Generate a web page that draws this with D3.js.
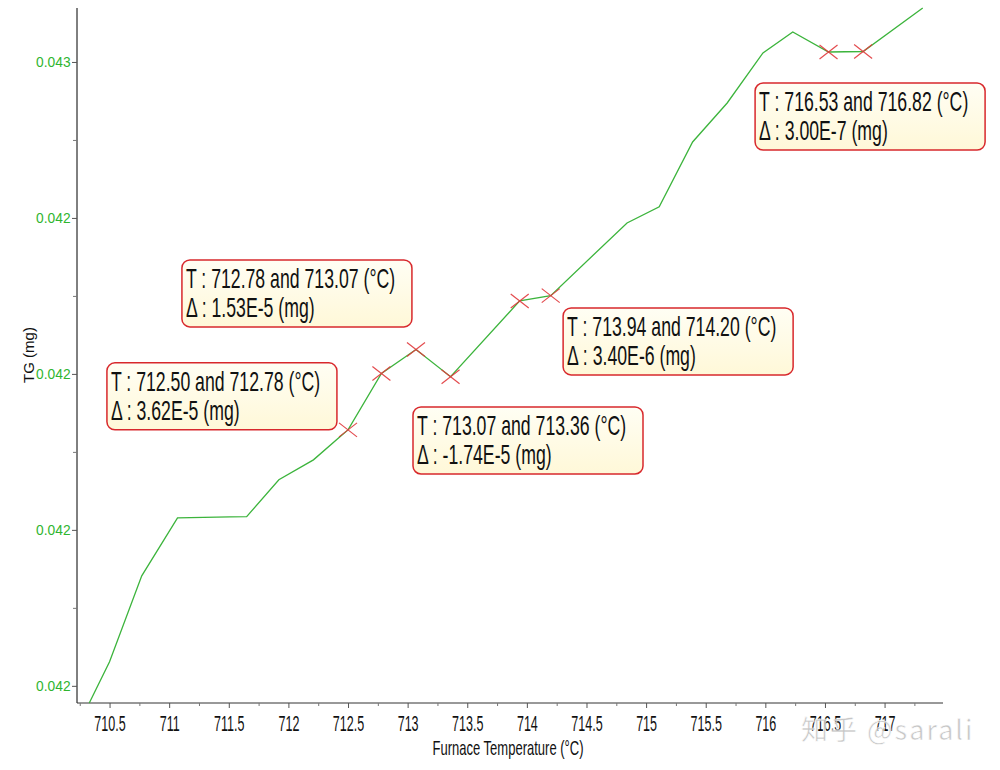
<!DOCTYPE html>
<html>
<head>
<meta charset="utf-8">
<script src="https://cdn.jsdelivr.net/npm/d3@7"></script>
<style>
  html, body { margin: 0; padding: 0; background: #ffffff; }
  svg { display: block; font-family: "Liberation Sans", Arial, sans-serif; }
</style>
</head>
<body>
<svg id="chart" width="1000" height="770"></svg>
<script>
// ---- data ----
const temperature = [710.33, 710.50, 710.77, 711.07, 711.51, 711.65, 711.92, 712.21, 712.43,
  712.50, 712.78, 713.07, 713.36, 713.94, 714.20, 714.84, 715.11, 715.39, 715.68, 715.98,
  716.23, 716.53, 716.82, 717.32];
const tg = [0.042589, 0.0426154, 0.0426705, 0.0427077, 0.0427083, 0.0427085, 0.0427321, 0.0427449,
  0.0427596, 0.0427641, 0.0428003, 0.0428156, 0.0427982, 0.0428468, 0.0428502, 0.0428968,
  0.0429071, 0.0429487, 0.0429737, 0.0430058, 0.0430192, 0.0430064, 0.0430067, 0.0430346];

const xTickValues = [710.5, 711, 711.5, 712, 712.5, 713, 713.5, 714, 714.5, 715, 715.5, 716, 716.5, 717];
const xTickLabels = ["710.5", "711", "711.5", "712", "712.5", "713", "713.5", "714", "714.5", "715", "715.5", "716", "716.5", "717"];
const yTickValues = [0.0426, 0.0427, 0.0428, 0.0429, 0.0430];
const yTickLabels = ["0.042", "0.042", "0.042", "0.042", "0.043"];

// marker pairs (temperatures) and their annotation texts
const pairStart = [712.50, 712.78, 713.07, 713.94, 716.53];
const pairEnd   = [712.78, 713.07, 713.36, 714.20, 716.82];
const deltaText = ["3.62E-5", "1.53E-5", "-1.74E-5", "3.40E-6", "3.00E-7"];
// annotation box anchor (top-left) in data units
const boxTemp = [710.478, 711.107, 713.045, 714.304, 715.914];
const boxTg   = [0.0428071, 0.0428731, 0.0427788, 0.0428423, 0.0429865];

const xTitle = "Furnace Temperature (°C)";
const yTitle = "TG (mg)";
const watermark = "知乎 @sarali";

// ---- layout ----
const svg = d3.select("#chart");
const pLeft = 77, pRight = 943, pTop = 8, pBottom = 703;
const x = d3.scaleLinear().domain([710.227, 717.49]).range([pLeft, pRight]);
const y = d3.scaleLinear().domain([0.042589, 0.0430346]).range([pBottom, pTop]);

const green = "#3cb43c";
const red = "#d8282c";

// y axis
const yAxis = svg.append("g").attr("transform", `translate(${pLeft},0)`)
  .call(d3.axisLeft(y).tickValues(yTickValues).tickSize(5).tickSizeOuter(0)
    .tickFormat((d, i) => yTickLabels[i]));
yAxis.select(".domain").attr("stroke", "#000").attr("d", `M0,${pTop}V${pBottom}`);
yAxis.selectAll(".tick line").attr("stroke", "#555");
yAxis.selectAll(".tick text").attr("fill", "#2fb52f").attr("font-size", 15).attr("x", -7)
  .attr("transform", "scale(0.92,1)")
  .attr("font-family", "Liberation Sans, Arial, sans-serif");
const yMinor = yTickValues.slice(0, -1).map((d, i) => (d + yTickValues[i + 1]) / 2);
svg.append("g").attr("transform", `translate(${pLeft},0)`)
  .call(d3.axisLeft(y).tickValues(yMinor).tickSize(4).tickFormat(""))
  .call(g => g.select(".domain").remove())
  .selectAll("line").attr("stroke", "#777");

// x axis
const xAxis = svg.append("g").attr("transform", `translate(0,${pBottom})`)
  .call(d3.axisBottom(x).tickValues(xTickValues).tickSize(5).tickSizeOuter(0)
    .tickFormat((d, i) => xTickLabels[i]));
xAxis.select(".domain").attr("stroke", "#333").attr("d", `M${pLeft},0H${pRight}`);
xAxis.selectAll(".tick line").attr("stroke", "#555");
xAxis.selectAll(".tick text").attr("fill", "#111").attr("font-size", 22)
  .attr("y", 28).attr("dy", 0).attr("transform", "scale(0.57,1)")
  .attr("font-family", "Liberation Sans, Arial, sans-serif");
const xMinor = [710.25].concat(xTickValues.map(d => d + 0.25));
svg.append("g").attr("transform", `translate(0,${pBottom})`)
  .call(d3.axisBottom(x).tickValues(xMinor).tickSize(3).tickFormat(""))
  .call(g => g.select(".domain").remove())
  .selectAll("line").attr("stroke", "#777");

// axis titles
svg.append("text")
  .attr("transform", `translate(${(pLeft + pRight) / 2 - 2},755) scale(0.62,1)`)
  .attr("text-anchor", "middle").attr("font-size", 21).attr("fill", "#111")
  .text(xTitle);
svg.append("text")
  .attr("transform", `translate(34,355) rotate(-90)`)
  .attr("text-anchor", "middle").attr("font-size", 15).attr("fill", "#111")
  .text(yTitle);

// line
const pts = temperature.map((t, i) => [t, tg[i]]);
svg.append("path").datum(pts)
  .attr("fill", "none").attr("stroke", green).attr("stroke-width", 1.3)
  .attr("d", d3.line().x(d => x(d[0])).y(d => y(d[1])));

// markers
const lookup = t => tg[temperature.findIndex(v => Math.abs(v - t) < 1e-6)];
const markerTemps = Array.from(new Set(pairStart.concat(pairEnd)));
const mx = 9, my = 7;
svg.append("g").selectAll("path").data(markerTemps).join("path")
  .attr("d", t => {
    const cx = x(t), cy = y(lookup(t));
    return `M${cx - mx},${cy - my}L${cx + mx},${cy + my}M${cx - mx},${cy + my}L${cx + mx},${cy - my}`;
  })
  .attr("stroke", "#e0393c").attr("stroke-width", 1.2).attr("fill", "none").attr("opacity", 0.9);

// annotation boxes
const defs = svg.append("defs");
const grad = defs.append("linearGradient").attr("id", "boxfill").attr("x1", 0).attr("y1", 0).attr("x2", 0).attr("y2", 1);
grad.append("stop").attr("offset", "0%").attr("stop-color", "#fffef4");
grad.append("stop").attr("offset", "100%").attr("stop-color", "#fff8d8");

const bw = 230, bh = 67;
const boxes = svg.append("g").selectAll("g").data(pairStart.map((s, i) => i)).join("g")
  .attr("transform", i => `translate(${x(boxTemp[i])},${y(boxTg[i])})`);
boxes.append("rect").attr("width", bw).attr("height", bh).attr("rx", 8).attr("ry", 8)
  .attr("fill", "url(#boxfill)").attr("stroke", red).attr("stroke-width", 1.5);
boxes.append("text")
  .attr("transform", "translate(4,28) scale(0.655,1)")
  .attr("font-size", 27).attr("fill", "#111")
  .text(i => `T : ${pairStart[i].toFixed(2)} and ${pairEnd[i].toFixed(2)} (°C)`);
boxes.append("text")
  .attr("transform", "translate(4,57) scale(0.655,1)")
  .attr("font-size", 27).attr("fill", "#111")
  .text(i => `Δ : ${deltaText[i]} (mg)`);

// watermark
svg.append("text")
  .attr("x", 801).attr("y", 740)
  .attr("font-family", "Noto Sans CJK SC, sans-serif")
  .attr("font-size", 27).attr("letter-spacing", 2)
  .attr("fill", "#bdbdbd").attr("opacity", 0.85)
  .attr("stroke", "#ffffff").attr("stroke-width", 0.6)
  .text(watermark);
</script>
</body>
</html>
